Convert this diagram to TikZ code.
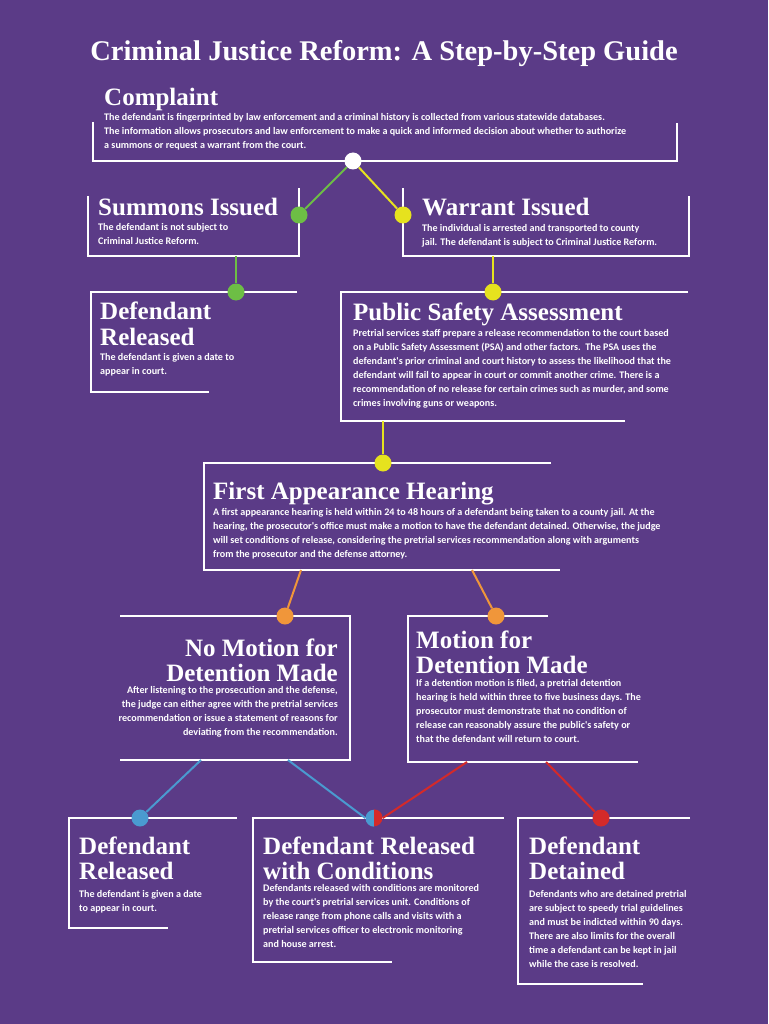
\documentclass[tikz,border=0pt]{standalone}
\usepackage{fontspec}
\setmainfont{Liberation Serif}
\newfontfamily\bodyf{Carlito}
\definecolor{bg}{HTML}{5B3B87}
\definecolor{cgreen}{HTML}{6DBE45}
\definecolor{cyellow}{HTML}{E6E21E}
\definecolor{corange}{HTML}{F0963A}
\definecolor{cblue}{HTML}{4A9AD0}
\definecolor{cred}{HTML}{D42A2A}
\begin{document}
\begin{tikzpicture}[x=1pt,y=-1pt,
  frame/.style={draw=white,line width=2pt},
  conn/.style={line width=2pt},
  dotn/.style={circle,inner sep=0pt,minimum size=17pt},
  head/.style={text=white,font=\fontsize{25}{25}\selectfont\bfseries,inner sep=0pt,align=left},
  body/.style={text=white,font=\bodyf\fontsize{10.1}{14}\selectfont\bfseries,inner sep=0pt,align=left}]
\fill[bg] (0,0) rectangle (768,1024);
\useasboundingbox (0,0) rectangle (768,1024);
\node[text=white,font=\fontsize{28.5}{29}\selectfont\bfseries,inner sep=0pt] (title) at (384,54) {Criminal Justice Reform: A Step-by-Step Guide};
% Complaint
\draw[frame] (93,122) -- (93,161) -- (677,161) -- (677,123);
\node[head,anchor=north west] (h1) at (104,88) {Complaint};
\node[body,anchor=north west] (b1) at (104,113) {The defendant is fingerprinted by law enforcement and a criminal history is collected from various statewide databases.\\The information allows prosecutors and law enforcement to make a quick and informed decision about whether to authorize\\a summons or request a warrant from the court.};
% Summons
\draw[frame] (88,196) -- (88,256) -- (299,256) -- (299,188);
\node[head,anchor=north west] (h2) at (98,198) {Summons Issued};
\node[body,anchor=north west] (b2) at (98,223) {The defendant is not subject to\\Criminal Justice Reform.};
% Warrant
\draw[frame] (403,188) -- (403,256) -- (689,256) -- (689,196);
\node[head,anchor=north west] (h3) at (422,198) {Warrant Issued};
\node[body,anchor=north west] (b3) at (422,224) {The individual is arrested and transported to county\\jail. The defendant is subject to Criminal Justice Reform.};
% Def released 1
\draw[frame] (297,292) -- (91,292) -- (91,392) -- (209,392);
\node[head,anchor=north west] (h4) at (100,302) {Defendant\\[1pt]Released};
\node[body,anchor=north west] (b4) at (100,353) {The defendant is given a date to\\appear in court.};
% PSA
\draw[frame] (688,292) -- (341,292) -- (341,421) -- (625,421);
\node[head,anchor=north west] (h5) at (353,303) {Public Safety Assessment};
\node[body,anchor=north west] (b5) at (353,329) {Pretrial services staff prepare a release recommendation to the court based\\on a Public Safety Assessment (PSA) and other factors.\ \ The PSA uses the\\defendant's prior criminal and court history to assess the likelihood that the\\defendant will fail to appear in court or commit another crime. There is a\\recommendation of no release for certain crimes such as murder, and some\\crimes involving guns or weapons.};
% FAH
\draw[frame] (551,463) -- (204,463) -- (204,570) -- (560,570);
\node[head,anchor=north west] (h6) at (213,482) {First Appearance Hearing};
\node[body,anchor=north west] (b6) at (213,508) {A first appearance hearing is held within 24 to 48 hours of a defendant being taken to a county jail. At the\\hearing, the prosecutor's office must make a motion to have the defendant detained. Otherwise, the judge\\will set conditions of release, considering the pretrial services recommendation along with arguments\\from the prosecutor and the defense attorney.};
% No motion
\draw[frame] (120,616) -- (350,616) -- (350,760) -- (120,760);
\node[head,anchor=north east,align=right] (h7) at (338,639) {No Motion for\\[0pt]Detention Made};
\node[body,anchor=north east,align=right] (b7) at (338,686) {After listening to the prosecution and the defense,\\the judge can either agree with the pretrial services\\recommendation or issue a statement of reasons for\\deviating from the recommendation.};
% Motion
\draw[frame] (548,616) -- (408,616) -- (408,762) -- (638,762);
\node[head,anchor=north west] (h8) at (416,631) {Motion for\\[0pt]Detention Made};
\node[body,anchor=north west] (b8) at (416,679) {If a detention motion is filed, a pretrial detention\\hearing is held within three to five business days. The\\prosecutor must demonstrate that no condition of\\release can reasonably assure the public's safety or\\that the defendant will return to court.};
% bottom boxes
\draw[frame] (237,818) -- (69,818) -- (69,928) -- (168,928);
\node[head,anchor=north west] (h9) at (79,837) {Defendant\\[0pt]Released};
\node[body,anchor=north west] (b9) at (79,890) {The defendant is given a date\\to appear in court.};
\draw[frame] (504,818) -- (253,818) -- (253,962) -- (392,962);
\node[head,anchor=north west] (h10) at (263,837) {Defendant Released\\[0pt]with Conditions};
\node[body,anchor=north west] (b10) at (263,884) {Defendants released with conditions are monitored\\by the court's pretrial services unit. Conditions of\\release range from phone calls and visits with a\\pretrial services officer to electronic monitoring\\and house arrest.};
\draw[frame] (690,818) -- (518,818) -- (518,984) -- (643,984);
\node[head,anchor=north west] (h11) at (529,837) {Defendant\\[0pt]Detained};
\node[body,anchor=north west] (b11) at (529,890) {Defendants who are detained pretrial\\are subject to speedy trial guidelines\\and must be indicted within 90 days.\\There are also limits for the overall\\time a defendant can be kept in jail\\while the case is resolved.};
% connector coordinates
\coordinate (c1) at (236,256); \coordinate (c2) at (493,256);
\coordinate (c3) at (383,421);
\coordinate (c4) at (301,570); \coordinate (c5) at (472,570);
\coordinate (c6) at (201,760); \coordinate (c7) at (288,760);
\coordinate (c8) at (467,762); \coordinate (c9) at (546,762);
% dots
\node[dotn,fill=white] (d0) at (353,161) {};
\node[dotn,fill=cgreen] (d1) at (299,215) {};
\node[dotn,fill=cyellow] (d2) at (403,215) {};
\node[dotn,fill=cgreen] (d3) at (236,292) {};
\node[dotn,fill=cyellow] (d4) at (493,292) {};
\node[dotn,fill=cyellow] (d5) at (383,463) {};
\node[dotn,fill=corange] (d6) at (285,616) {};
\node[dotn,fill=corange] (d7) at (496,616) {};
\node[dotn,fill=cblue] (d8) at (140,818) {};
\node[dotn] (d9) at (374,818) {};
\node[dotn,fill=cred] (d10) at (601,818) {};
\fill[cblue] (d9.south) arc (270:90:8.5pt) -- cycle;
\fill[cred] (d9.north) arc (90:-90:8.5pt) -- cycle;
% connectors
\draw[conn,cgreen] (d0) -- (d1);
\draw[conn,cyellow] (d0) -- (d2);
\draw[conn,cgreen] (c1) -- (d3);
\draw[conn,cyellow] (c2) -- (d4);
\draw[conn,cyellow] (c3) -- (d5);
\draw[conn,corange] (c4) -- (d6);
\draw[conn,corange] (c5) -- (d7);
\draw[conn,cblue] (c6) -- (d8);
\draw[conn,cblue] (c7) -- (d9.west);
\draw[conn,cred] (c8) -- (d9.east);
\draw[conn,cred] (c9) -- (d10);
\end{tikzpicture}
\end{document}
